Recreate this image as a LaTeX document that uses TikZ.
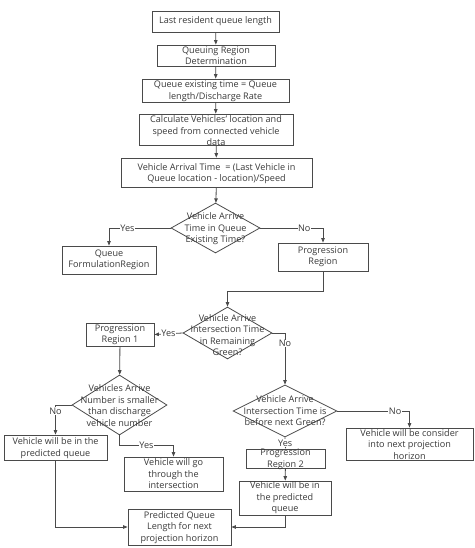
\documentclass[tikz,border=0pt]{standalone}
\usepackage{fontspec}
\setmainfont{Open Sans}
\usetikzlibrary{arrows.meta,shapes.geometric}
\definecolor{ink}{HTML}{383838}
\definecolor{edge}{HTML}{4A4A4A}
\tikzset{
  box/.style={draw=edge, line width=0.8pt, rectangle, inner sep=0pt},
  dia/.style={draw=edge, line width=0.8pt, diamond, inner sep=0pt},
  txt/.style={text=ink, align=center, inner sep=0pt, font=\fontsize{9.1}{11.5}\selectfont},
  lbl/.style={text=ink, fill=white, inner sep=0.5pt, font=\fontsize{9.1}{10}\selectfont},
  conn/.style={draw=edge, line width=0.8pt, -{Triangle[length=4.5pt,width=3.5pt]}},
  plain/.style={draw=edge, line width=0.8pt}
}
\begin{document}
\begin{tikzpicture}[x=1pt,y=-1pt]
\useasboundingbox (0,0) rectangle (474,548);
% boxes
\node[box, minimum width=127pt, minimum height=21pt] (b1) at (215.5,21.5) {};
\node[txt] (t1) at (215.5,21.5) {Last resident queue length};
\node[box, minimum width=118pt, minimum height=21pt] (b2) at (216,55.5) {};
\node[txt] (t2) at (216,55.5) {Queuing Region\\Determination};
\node[box, minimum width=147pt, minimum height=23pt] (b3) at (215.5,90.5) {};
\node[txt] (t3) at (215.5,91.5) {Queue existing time = Queue\\length/Discharge Rate};
\node[box, minimum width=154pt, minimum height=31pt] (b4) at (216,129.5) {};
\node[txt] (t4) at (216,131) {Calculate Vehicles' location and\\speed from connected vehicle\\data};
\node[box, minimum width=191pt, minimum height=29pt] (b5) at (216.5,172.5) {};
\node[txt] (t5) at (216.5,173.5) {Vehicle Arrival Time\ \ = (Last Vehicle in\\Queue location - location)/Speed};
% decision 1
\node[dia, minimum width=89pt, minimum height=50pt] (d1) at (215.5,228) {};
\node[txt] (td1) at (215.5,229) {Vehicle Arrive\\Time in Queue\\Existing Time?};
\node[box, minimum width=94pt, minimum height=28pt] (bQ) at (109,260) {};
\node[txt] (tQ) at (109,260) {Queue\\FormulationRegion};
\node[box, minimum width=90pt, minimum height=28pt] (bP) at (323,257) {};
\node[txt] (tP) at (323,257) {Progression\\Region};
% decision 2
\node[dia, minimum width=89pt, minimum height=52pt] (d2) at (227.5,333) {};
\node[txt] (td2) at (227.5,335) {Vehicle Arrive\\Intersection Time\\in Remaining\\Green?};
\node[box, minimum width=68pt, minimum height=23pt] (bP1) at (120,334.5) {};
\node[txt] (tP1) at (120,335) {Progression\\Region 1};
% decision 4
\node[dia, minimum width=95pt, minimum height=60pt] (d4) at (119.5,405) {};
\node[txt] (td4) at (119.5,405.5) {Vehicles Arrive\\Number is smaller\\than discharge\\vehicle number};
% decision 3
\node[dia, minimum width=104pt, minimum height=52pt] (d3) at (285,411) {};
\node[txt] (td3) at (285,411) {Vehicle Arrive\\Intersection Time is\\before next Green?};
\node[box, minimum width=103pt, minimum height=25pt] (bL) at (55.5,447.5) {};
\node[txt] (tL) at (55.5,448) {Vehicle will be in the\\predicted queue};
\node[box, minimum width=99pt, minimum height=34pt] (bG) at (173.5,474) {};
\node[txt] (tG) at (173.5,474) {Vehicle will go\\through the\\intersection};
\node[box, minimum width=79pt, minimum height=19pt] (bP2) at (285.5,458.5) {};
\node[txt] (tP2) at (285.5,459) {Progression\\Region 2};
\node[box, minimum width=92pt, minimum height=34pt] (bR) at (285,498) {};
\node[txt] (tR) at (285,498) {Vehicle will be in\\the predicted\\queue};
\node[box, minimum width=127pt, minimum height=32pt] (bN) at (409.5,444) {};
\node[txt] (tN) at (409.5,444.5) {Vehicle will be consider\\into next projection\\horizon};
\node[box, minimum width=103pt, minimum height=36pt] (bF) at (179.5,527) {};
\node[txt] (tF) at (179.5,527.5) {Predicted Queue\\Length for next\\projection horizon};
% connectors
\draw[conn] (b1) -- (b2);
\draw[conn] (b2) -- (b3);
\draw[conn] (b3) -- (b4);
\draw[conn] (b4) -- (b5);
\draw[conn] (b5) -- (d1);
\draw[conn] (d1.west) -| node[lbl, pos=0.35] {Yes} (bQ.north);
\draw[conn] (d1.east) -| node[lbl, pos=0.35] {No} (bP.north);
\coordinate (k1) at (323,291);
\coordinate (k2) at (227.5,291);
\draw[conn] (bP.south) -- (k1) -- (k2) -- (d2.north);
\draw[conn] (d2.west) -- node[lbl] {Yes} (bP1.east);
\draw[conn] (d2.east) -| node[lbl, pos=0.6] {No} (d3.north);
\draw[conn] (bP1) -- (d4);
\draw[conn] (d4.west) -| node[lbl, pos=0.6] {No} (bL.north);
\coordinate (k3) at (119.5,445);
\coordinate (k4) at (173.5,445);
\draw[plain] (d4.south) -- (k3) -- node[lbl] {Yes} (k4);
\draw[conn] (k4) -- (bG.north);
\draw[conn] (d3.east) -| node[lbl, pos=0.4] {No} (bN.north);
\draw[conn] (d3.south) -- node[lbl] {Yes} (bP2.north);
\draw[conn] (bP2) -- (bR);
\draw[conn] (bR.south) |- (bF.east);
\draw[conn] (bL.south) |- (bF.west);
\end{tikzpicture}
\end{document}
